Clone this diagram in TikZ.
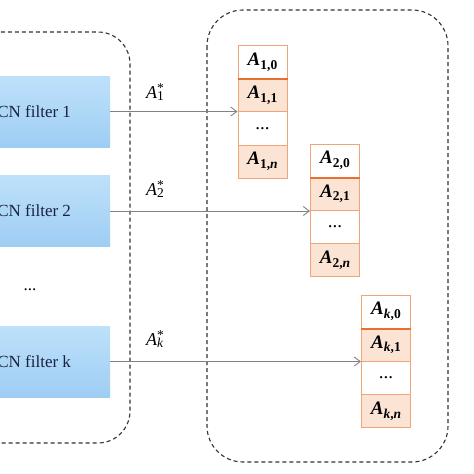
\documentclass[tikz,border=0pt]{standalone}
\usepackage{fontspec}
\setmainfont{Liberation Serif}
\usetikzlibrary{arrows.meta}
\definecolor{orborder}{RGB}{240,165,120}
\definecolor{orline}{RGB}{232,110,50}
\definecolor{orfill}{RGB}{251,228,212}
\definecolor{bluetop}{RGB}{190,225,250}
\definecolor{bluebot}{RGB}{158,205,244}
\definecolor{navy}{RGB}{25,35,65}
\definecolor{dashc}{RGB}{50,50,50}
\definecolor{arrowc}{RGB}{130,130,130}
\newcommand\subsz{\fontsize{13.5}{14}\selectfont}
\newcommand\cellA[1]{\textbf{\textit{A}}\raisebox{-0.45ex}{\subsz\bfseries #1}}
\newcommand\starA[1]{\textit{A}\raisebox{-0.45ex}{\subsz\begin{tabular}{@{}l@{}}\raisebox{0pt}[0pt][0pt]{\raisebox{0.8em}{*}}\\[-1.2em]#1\end{tabular}}}
\tikzset{
  filterbox/.style={minimum width=164pt, minimum height=71pt, inner sep=0pt,
    top color=bluetop, bottom color=bluebot, draw=none,
    font=\fontsize{17}{20}\selectfont, text=navy},
  cell/.style={draw=orborder, line width=1pt, minimum width=49pt, minimum height=33.2pt,
    inner sep=0pt, fill=orfill, font=\fontsize{19}{21}\selectfont},
  topcell/.style={cell, fill=white},
  groupbox/.style={draw=dashc, dashed, dash pattern=on 4pt off 3pt, line width=1.1pt},
  conn/.style={draw=arrowc, line width=0.9pt, -{Straight Barb[length=6pt,width=9pt]}},
  lbl/.style={font=\fontsize{18}{21}\selectfont},
  sep/.style={draw=orline, line width=1.6pt}
}
\begin{document}
\begin{tikzpicture}[x=1pt,y=-1pt]
\useasboundingbox (0,0) rectangle (474,474);
\clip (0,0) rectangle (474,474);
% group boxes
\draw[groupbox, rounded corners=32pt] (-60,32) rectangle (130,443);
\draw[groupbox, rounded corners=36pt] (207,10) rectangle (448,462);
% filters
\node[filterbox] (f1) at (28,111.5) {GCN filter 1};
\node[filterbox] (f2) at (28,211) {GCN filter 2};
\node[filterbox] (fk) at (28,361.5) {GCN filter k};
\node[font=\fontsize{17}{20}\selectfont] (fdots) at (30,290) {...};
% stack 1
\node[topcell] (c10) at (262.5,62.1) {\cellA{1,0}};
\node[cell] (c11) at (262.5,95.3) {\cellA{1,1}};
\node[cell, fill=white] (c12) at (262.5,128.5) {...};
\node[cell] (c1n) at (262.5,161.7) {\cellA{1,\textit{n}}};
\draw[sep] (c10.south west) -- (c10.south east);
% stack 2
\node[topcell] (c20) at (335,160.6) {\cellA{2,0}};
\node[cell] (c21) at (335,193.8) {\cellA{2,1}};
\node[cell, fill=white] (c22) at (335,227) {...};
\node[cell] (c2n) at (335,260.2) {\cellA{2,\textit{n}}};
\draw[sep] (c20.south west) -- (c20.south east);
% stack k
\node[topcell] (ck0) at (386,311.6) {\cellA{\textit{k},0}};
\node[cell] (ck1) at (386,344.8) {\cellA{\textit{k},1}};
\node[cell, fill=white] (ck2) at (386,378) {...};
\node[cell] (ckn) at (386,411.2) {\cellA{\textit{k},\textit{n}}};
\draw[sep] (ck0.south west) -- (ck0.south east);
% connectors
\draw[conn] (f1.east) -- (f1.east -| c11.south west);
\draw[conn] (f2.east) -- (f2.east -| c21.south west);
\draw[conn] (fk.east) -- (fk.east -| ck1.south west);
% labels
\node[lbl] (l1) at (155,96) {\starA{1}};
\node[lbl] (l2) at (155,193) {\starA{2}};
\node[lbl] (lk) at (155,343) {\starA{\textit{k}}};
\end{tikzpicture}
\end{document}
